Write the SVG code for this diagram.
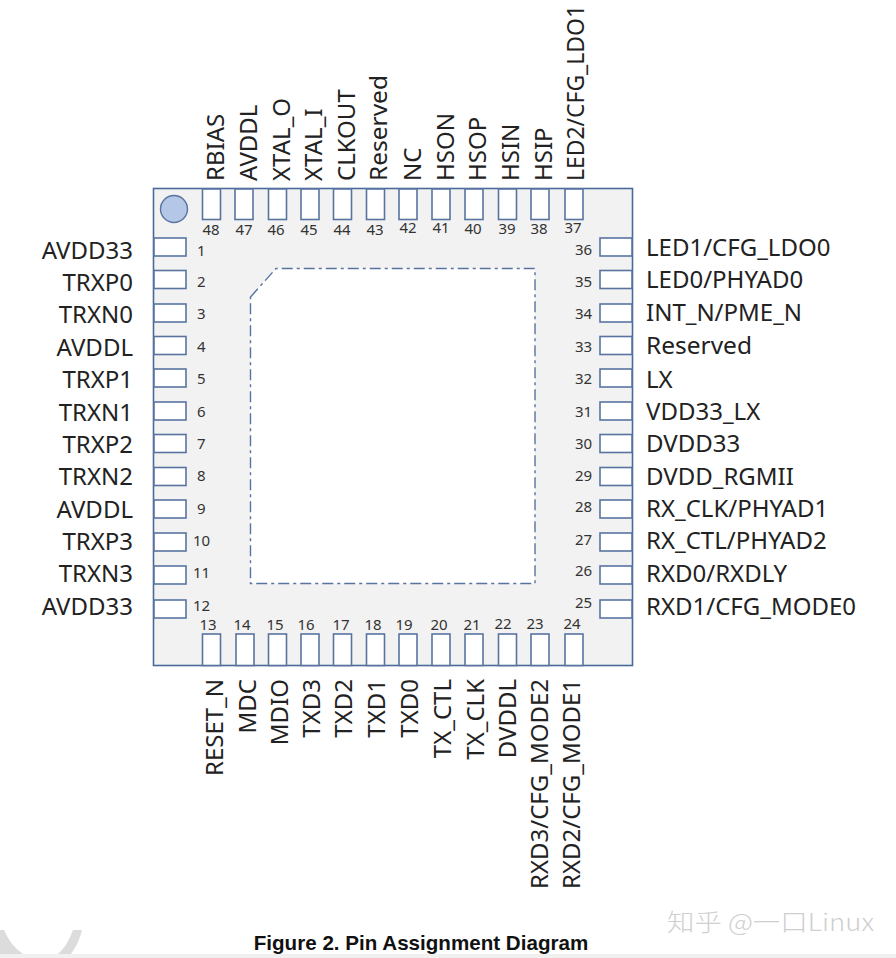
<svg xmlns="http://www.w3.org/2000/svg" width="896" height="958" viewBox="0 0 896 958">
<style>
.pin{fill:#fff;stroke:#5873a0;stroke-width:1.6}
.lab{font-family:"Noto Sans","Open Sans",sans-serif;font-size:24px;fill:#222}
.num{font-family:"Noto Sans","Open Sans",sans-serif;font-size:15px;fill:#333}
.e{text-anchor:end}
.m{text-anchor:middle}
</style>
<rect width="896" height="958" fill="#fff"/>
<rect x="0" y="954" width="896" height="4" fill="#f0f0f0"/>
<path d="M0 930 H4 Q10 945 23 954 H0 Z M73 930 H82 Q79 943 71 954 H58 Q68 945 73 930 Z" fill="#dcdcdc"/>
<g id="chip">
<rect x="153.5" y="188.5" width="479" height="477" fill="#f2f2f2" stroke="#4a6a9c" stroke-width="1.6"/>
<path d="M250.5 297 L276 268.5 H535 V583.5 H250.5 Z" fill="#fff" stroke="#5873a0" stroke-width="1.4" stroke-dasharray="11 4 3 4"/>
<circle cx="174" cy="209" r="13.5" fill="#b4c7e7" stroke="#5873a0" stroke-width="1.4"/>
</g>
<g id="pins-left">
<rect class="pin" x="154" y="238" width="32" height="18"/>
<rect class="pin" x="154" y="270.5" width="32" height="18"/>
<rect class="pin" x="154" y="304" width="32" height="18"/>
<rect class="pin" x="154" y="336.5" width="32" height="18"/>
<rect class="pin" x="154" y="369" width="32" height="18"/>
<rect class="pin" x="154" y="402" width="32" height="18"/>
<rect class="pin" x="154" y="434.5" width="32" height="18"/>
<rect class="pin" x="154" y="467.5" width="32" height="18"/>
<rect class="pin" x="154" y="500" width="32" height="18"/>
<rect class="pin" x="154" y="533" width="32" height="18"/>
<rect class="pin" x="154" y="566" width="32" height="18"/>
<rect class="pin" x="154" y="600" width="32" height="18"/>
<g class="lab e">
<text x="133" y="259">AVDD33</text>
<text x="133" y="291">TRXP0</text>
<text x="133" y="323">TRXN0</text>
<text x="133" y="356">AVDDL</text>
<text x="133" y="388">TRXP1</text>
<text x="133" y="421">TRXN1</text>
<text x="133" y="453">TRXP2</text>
<text x="133" y="485">TRXN2</text>
<text x="133" y="518">AVDDL</text>
<text x="133" y="550">TRXP3</text>
<text x="133" y="582">TRXN3</text>
<text x="133" y="615">AVDD33</text>
</g>
<g class="num">
<text x="197" y="256">1</text>
<text x="197" y="287">2</text>
<text x="197" y="319">3</text>
<text x="197" y="352">4</text>
<text x="197" y="384">5</text>
<text x="197" y="417">6</text>
<text x="197" y="449">7</text>
<text x="197" y="481">8</text>
<text x="197" y="514">9</text>
<text x="193" y="546">10</text>
<text x="193" y="578">11</text>
<text x="193" y="611">12</text>
</g>
</g>
<g id="pins-right">
<rect class="pin" x="600" y="238" width="32" height="18"/>
<rect class="pin" x="600" y="270.5" width="32" height="18"/>
<rect class="pin" x="600" y="304" width="32" height="18"/>
<rect class="pin" x="600" y="336.5" width="32" height="18"/>
<rect class="pin" x="600" y="369" width="32" height="18"/>
<rect class="pin" x="600" y="402" width="32" height="18"/>
<rect class="pin" x="600" y="434.5" width="32" height="18"/>
<rect class="pin" x="600" y="467.5" width="32" height="18"/>
<rect class="pin" x="600" y="500" width="32" height="18"/>
<rect class="pin" x="600" y="533" width="32" height="18"/>
<rect class="pin" x="600" y="566" width="32" height="18"/>
<rect class="pin" x="600" y="600" width="32" height="18"/>
<g class="lab">
<text x="646" y="256">LED1/CFG_LDO0</text>
<text x="646" y="288">LED0/PHYAD0</text>
<text x="646" y="321">INT_N/PME_N</text>
<text x="646" y="354" textLength="106" lengthAdjust="spacingAndGlyphs">Reserved</text>
<text x="646" y="388">LX</text>
<text x="646" y="420">VDD33_LX</text>
<text x="646" y="452">DVDD33</text>
<text x="646" y="485">DVDD_RGMII</text>
<text x="646" y="517">RX_CLK/PHYAD1</text>
<text x="646" y="549">RX_CTL/PHYAD2</text>
<text x="646" y="582">RXD0/RXDLY</text>
<text x="646" y="615">RXD1/CFG_MODE0</text>
</g>
<g class="num">
<text x="575" y="255">36</text>
<text x="575" y="287">35</text>
<text x="575" y="319">34</text>
<text x="575" y="352">33</text>
<text x="575" y="384">32</text>
<text x="575" y="417">31</text>
<text x="575" y="449">30</text>
<text x="575" y="481">29</text>
<text x="575" y="512">28</text>
<text x="575" y="545">27</text>
<text x="575" y="576">26</text>
<text x="575" y="608">25</text>
</g>
</g>
<g id="pins-top">
<rect class="pin" x="202.5" y="189" width="18" height="30.5"/>
<rect class="pin" x="235" y="189" width="18" height="30.5"/>
<rect class="pin" x="268.5" y="189" width="18" height="30.5"/>
<rect class="pin" x="301" y="189" width="18" height="30.5"/>
<rect class="pin" x="333.5" y="189" width="18" height="30.5"/>
<rect class="pin" x="366.5" y="189" width="18" height="30.5"/>
<rect class="pin" x="399" y="189" width="18" height="30.5"/>
<rect class="pin" x="432" y="189" width="18" height="30.5"/>
<rect class="pin" x="465" y="189" width="18" height="30.5"/>
<rect class="pin" x="498.5" y="189" width="18" height="30.5"/>
<rect class="pin" x="531" y="189" width="18" height="30.5"/>
<rect class="pin" x="565" y="189" width="18" height="30.5"/>
<g class="lab">
<text transform="translate(224 181) rotate(-90)">RBIAS</text>
<text transform="translate(257 181) rotate(-90)">AVDDL</text>
<text transform="translate(289.5 181) rotate(-90)">XTAL_O</text>
<text transform="translate(321.5 181) rotate(-90)">XTAL_I</text>
<text transform="translate(354.5 181) rotate(-90)">CLKOUT</text>
<text transform="translate(387 181) rotate(-90)" textLength="106" lengthAdjust="spacingAndGlyphs">Reserved</text>
<text transform="translate(420.5 181) rotate(-90)">NC</text>
<text transform="translate(453.5 181) rotate(-90)">HSON</text>
<text transform="translate(486 181) rotate(-90)">HSOP</text>
<text transform="translate(519 181) rotate(-90)">HSIN</text>
<text transform="translate(551.5 181) rotate(-90)">HSIP</text>
<text transform="translate(583.5 181) rotate(-90)" style="font-size:23px" textLength="176" lengthAdjust="spacingAndGlyphs">LED2/CFG_LDO1</text>
</g>
<g class="num m">
<text x="211" y="235">48</text>
<text x="244" y="235">47</text>
<text x="276" y="235">46</text>
<text x="309" y="235">45</text>
<text x="342" y="235">44</text>
<text x="375" y="235">43</text>
<text x="408" y="233">42</text>
<text x="441" y="233">41</text>
<text x="473" y="234">40</text>
<text x="507" y="234">39</text>
<text x="539" y="234">38</text>
<text x="573" y="233">37</text>
</g>
</g>
<g id="pins-bottom">
<rect class="pin" x="202.5" y="634" width="18" height="31.5"/>
<rect class="pin" x="236" y="634" width="18" height="31.5"/>
<rect class="pin" x="268.5" y="634" width="18" height="31.5"/>
<rect class="pin" x="301" y="634" width="18" height="31.5"/>
<rect class="pin" x="333.5" y="634" width="18" height="31.5"/>
<rect class="pin" x="366.5" y="634" width="18" height="31.5"/>
<rect class="pin" x="399" y="634" width="18" height="31.5"/>
<rect class="pin" x="432" y="634" width="18" height="31.5"/>
<rect class="pin" x="465" y="634" width="18" height="31.5"/>
<rect class="pin" x="498.5" y="634" width="18" height="31.5"/>
<rect class="pin" x="531" y="634" width="18" height="31.5"/>
<rect class="pin" x="565" y="634" width="18" height="31.5"/>
<g class="lab e">
<text transform="translate(223 679) rotate(-90)">RESET_N</text>
<text transform="translate(256 679) rotate(-90)">MDC</text>
<text transform="translate(288 679) rotate(-90)">MDIO</text>
<text transform="translate(320 679) rotate(-90)">TXD3</text>
<text transform="translate(352 679) rotate(-90)">TXD2</text>
<text transform="translate(385 679) rotate(-90)">TXD1</text>
<text transform="translate(418 679) rotate(-90)">TXD0</text>
<text transform="translate(451 679) rotate(-90)">TX_CTL</text>
<text transform="translate(484 679) rotate(-90)">TX_CLK</text>
<text transform="translate(516 679) rotate(-90)">DVDDL</text>
<text transform="translate(548 679) rotate(-90)">RXD3/CFG_MODE2</text>
<text transform="translate(580 679) rotate(-90)">RXD2/CFG_MODE1</text>
</g>
<g class="num m">
<text x="208" y="630">13</text>
<text x="242" y="630">14</text>
<text x="275" y="630">15</text>
<text x="306" y="630">16</text>
<text x="341" y="630">17</text>
<text x="373" y="630">18</text>
<text x="404" y="630">19</text>
<text x="439" y="630">20</text>
<text x="472" y="630">21</text>
<text x="503" y="629">22</text>
<text x="535" y="629">23</text>
<text x="572" y="629">24</text>
</g>
</g>
<text x="421" y="950" text-anchor="middle" font-family="Liberation Sans, sans-serif" font-weight="700" font-size="20.6" fill="#111">Figure 2. Pin Assignment Diagram</text>
<text x="667" y="931" font-family="Noto Sans CJK SC, Noto Sans, sans-serif" font-size="24" font-weight="300" fill="#cfcfcf" textLength="207" lengthAdjust="spacingAndGlyphs">知乎 @一口Linux</text>
</svg>
